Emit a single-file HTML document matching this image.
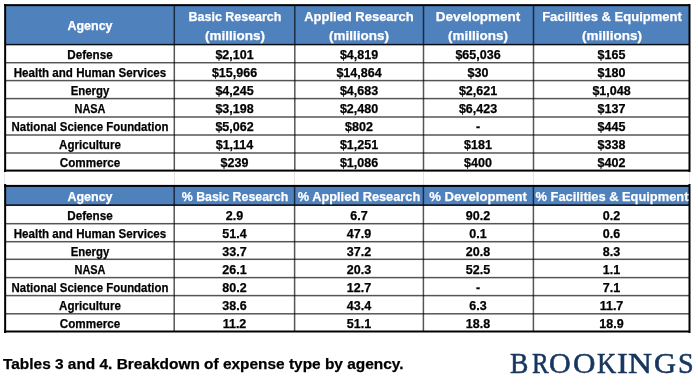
<!DOCTYPE html>
<html><head><meta charset="utf-8"><style>
html,body{margin:0;padding:0;background:#fff;}
body{width:698px;height:390px;position:relative;overflow:hidden;font-family:"Liberation Sans",sans-serif;}
.t{position:absolute;text-align:center;white-space:nowrap;font-weight:bold;-webkit-text-stroke:0.25px currentColor;}
.r{position:absolute;}
.m{position:absolute;mix-blend-mode:multiply;}
</style></head><body>
<div class="r" style="left:5px;top:5px;width:685px;height:40px;background:#4F81BD"></div>
<div class="m" style="left:6px;top:62px;width:683px;height:1px;background:#555555"></div>
<div class="m" style="left:6px;top:63px;width:683px;height:1px;background:#b2b2b2"></div>
<div class="m" style="left:6px;top:79px;width:683px;height:1px;background:#e5e5e5"></div>
<div class="m" style="left:6px;top:80px;width:683px;height:1px;background:#555555"></div>
<div class="m" style="left:6px;top:81px;width:683px;height:1px;background:#c4c4c4"></div>
<div class="m" style="left:6px;top:97px;width:683px;height:1px;background:#e5e5e5"></div>
<div class="m" style="left:6px;top:98px;width:683px;height:1px;background:#555555"></div>
<div class="m" style="left:6px;top:99px;width:683px;height:1px;background:#c4c4c4"></div>
<div class="m" style="left:6px;top:116px;width:683px;height:1px;background:#808080"></div>
<div class="m" style="left:6px;top:117px;width:683px;height:1px;background:#808080"></div>
<div class="m" style="left:6px;top:134px;width:683px;height:1px;background:#808080"></div>
<div class="m" style="left:6px;top:135px;width:683px;height:1px;background:#808080"></div>
<div class="m" style="left:6px;top:152px;width:683px;height:1px;background:#808080"></div>
<div class="m" style="left:6px;top:153px;width:683px;height:1px;background:#808080"></div>
<div class="m" style="left:173px;top:5px;width:1px;height:166px;background:#b3b3b3"></div>
<div class="m" style="left:174px;top:5px;width:1px;height:166px;background:#555555"></div>
<div class="m" style="left:175px;top:5px;width:1px;height:166px;background:#f6f6f6"></div>
<div class="m" style="left:294px;top:5px;width:1px;height:166px;background:#5e5e5e"></div>
<div class="m" style="left:295px;top:5px;width:1px;height:166px;background:#a1a1a1"></div>
<div class="m" style="left:422px;top:5px;width:1px;height:166px;background:#d4d4d4"></div>
<div class="m" style="left:423px;top:5px;width:1px;height:166px;background:#555555"></div>
<div class="m" style="left:424px;top:5px;width:1px;height:166px;background:#d4d4d4"></div>
<div class="m" style="left:532px;top:5px;width:1px;height:166px;background:#d4d4d4"></div>
<div class="m" style="left:533px;top:5px;width:1px;height:166px;background:#555555"></div>
<div class="m" style="left:534px;top:5px;width:1px;height:166px;background:#d4d4d4"></div>
<div class="m" style="left:6px;top:43px;width:683px;height:1px;background:#dddddd"></div>
<div class="m" style="left:6px;top:44px;width:683px;height:1px;background:#191919"></div>
<div class="m" style="left:6px;top:45px;width:683px;height:1px;background:#aeaeae"></div>
<div class="m" style="left:4px;top:4px;width:686px;height:1px;background:#262626"></div>
<div class="m" style="left:4px;top:5px;width:686px;height:1px;background:#000000"></div>
<div class="m" style="left:4px;top:6px;width:686px;height:1px;background:#d9d9d9"></div>
<div class="m" style="left:4px;top:169px;width:686px;height:1px;background:#999999"></div>
<div class="m" style="left:4px;top:170px;width:686px;height:1px;background:#000000"></div>
<div class="m" style="left:4px;top:171px;width:686px;height:1px;background:#666666"></div>
<div class="m" style="left:4px;top:4px;width:1px;height:168px;background:#262626"></div>
<div class="m" style="left:5px;top:4px;width:1px;height:168px;background:#000000"></div>
<div class="m" style="left:6px;top:4px;width:1px;height:168px;background:#d9d9d9"></div>
<div class="m" style="left:688px;top:4px;width:1px;height:168px;background:#808080"></div>
<div class="m" style="left:689px;top:4px;width:1px;height:168px;background:#000000"></div>
<div class="m" style="left:690px;top:4px;width:1px;height:168px;background:#808080"></div>
<div class="t" style="left:-110.00px;top:19.10px;width:400px;font-size:13px;line-height:13px;color:#fff;transform:scaleX(0.961);">Agency</div>
<div class="t" style="left:34.50px;top:9.50px;width:400px;font-size:13px;line-height:13px;color:#fff;transform:scaleX(0.958);">Basic Research</div>
<div class="t" style="left:34.50px;top:28.70px;width:400px;font-size:13px;line-height:13px;color:#fff;transform:scaleX(1.036);">(millions)</div>
<div class="t" style="left:159.00px;top:9.50px;width:400px;font-size:13px;line-height:13px;color:#fff;transform:scaleX(0.997);">Applied Research</div>
<div class="t" style="left:159.00px;top:28.70px;width:400px;font-size:13px;line-height:13px;color:#fff;transform:scaleX(1.036);">(millions)</div>
<div class="t" style="left:278.00px;top:9.50px;width:400px;font-size:13px;line-height:13px;color:#fff;transform:scaleX(1.0375);">Development</div>
<div class="t" style="left:278.00px;top:28.70px;width:400px;font-size:13px;line-height:13px;color:#fff;transform:scaleX(1.036);">(millions)</div>
<div class="t" style="left:411.50px;top:9.50px;width:400px;font-size:13px;line-height:13px;color:#fff;transform:scaleX(1.002);">Facilities &amp; Equipment</div>
<div class="t" style="left:411.50px;top:28.70px;width:400px;font-size:13px;line-height:13px;color:#fff;transform:scaleX(1.036);">(millions)</div>
<div class="t" style="left:-110.00px;top:49.42px;width:400px;font-size:12.5px;line-height:12.5px;color:#000;transform:scaleX(0.936);">Defense</div>
<div class="t" style="left:34.50px;top:49.42px;width:400px;font-size:12.5px;line-height:12.5px;color:#000;">$2,101</div>
<div class="t" style="left:159.00px;top:49.42px;width:400px;font-size:12.5px;line-height:12.5px;color:#000;">$4,819</div>
<div class="t" style="left:278.00px;top:49.42px;width:400px;font-size:12.5px;line-height:12.5px;color:#000;">$65,036</div>
<div class="t" style="left:411.50px;top:49.42px;width:400px;font-size:12.5px;line-height:12.5px;color:#000;">$165</div>
<div class="t" style="left:-110.00px;top:67.42px;width:400px;font-size:12.5px;line-height:12.5px;color:#000;transform:scaleX(0.926);">Health and Human Services</div>
<div class="t" style="left:34.50px;top:67.42px;width:400px;font-size:12.5px;line-height:12.5px;color:#000;">$15,966</div>
<div class="t" style="left:159.00px;top:67.42px;width:400px;font-size:12.5px;line-height:12.5px;color:#000;">$14,864</div>
<div class="t" style="left:278.00px;top:67.42px;width:400px;font-size:12.5px;line-height:12.5px;color:#000;">$30</div>
<div class="t" style="left:411.50px;top:67.42px;width:400px;font-size:12.5px;line-height:12.5px;color:#000;">$180</div>
<div class="t" style="left:-110.00px;top:85.42px;width:400px;font-size:12.5px;line-height:12.5px;color:#000;transform:scaleX(0.91);">Energy</div>
<div class="t" style="left:34.50px;top:85.42px;width:400px;font-size:12.5px;line-height:12.5px;color:#000;">$4,245</div>
<div class="t" style="left:159.00px;top:85.42px;width:400px;font-size:12.5px;line-height:12.5px;color:#000;">$4,683</div>
<div class="t" style="left:278.00px;top:85.42px;width:400px;font-size:12.5px;line-height:12.5px;color:#000;">$2,621</div>
<div class="t" style="left:411.50px;top:85.42px;width:400px;font-size:12.5px;line-height:12.5px;color:#000;">$1,048</div>
<div class="t" style="left:-110.00px;top:103.42px;width:400px;font-size:12.5px;line-height:12.5px;color:#000;transform:scaleX(0.874);">NASA</div>
<div class="t" style="left:34.50px;top:103.42px;width:400px;font-size:12.5px;line-height:12.5px;color:#000;">$3,198</div>
<div class="t" style="left:159.00px;top:103.42px;width:400px;font-size:12.5px;line-height:12.5px;color:#000;">$2,480</div>
<div class="t" style="left:278.00px;top:103.42px;width:400px;font-size:12.5px;line-height:12.5px;color:#000;">$6,423</div>
<div class="t" style="left:411.50px;top:103.42px;width:400px;font-size:12.5px;line-height:12.5px;color:#000;">$137</div>
<div class="t" style="left:-110.00px;top:121.42px;width:400px;font-size:12.5px;line-height:12.5px;color:#000;transform:scaleX(0.914);">National Science Foundation</div>
<div class="t" style="left:34.50px;top:121.42px;width:400px;font-size:12.5px;line-height:12.5px;color:#000;">$5,062</div>
<div class="t" style="left:159.00px;top:121.42px;width:400px;font-size:12.5px;line-height:12.5px;color:#000;">$802</div>
<div class="t" style="left:278.00px;top:121.42px;width:400px;font-size:12.5px;line-height:12.5px;color:#000;">-</div>
<div class="t" style="left:411.50px;top:121.42px;width:400px;font-size:12.5px;line-height:12.5px;color:#000;">$445</div>
<div class="t" style="left:-110.00px;top:139.42px;width:400px;font-size:12.5px;line-height:12.5px;color:#000;transform:scaleX(0.926);">Agriculture</div>
<div class="t" style="left:34.50px;top:139.42px;width:400px;font-size:12.5px;line-height:12.5px;color:#000;">$1,114</div>
<div class="t" style="left:159.00px;top:139.42px;width:400px;font-size:12.5px;line-height:12.5px;color:#000;">$1,251</div>
<div class="t" style="left:278.00px;top:139.42px;width:400px;font-size:12.5px;line-height:12.5px;color:#000;">$181</div>
<div class="t" style="left:411.50px;top:139.42px;width:400px;font-size:12.5px;line-height:12.5px;color:#000;">$338</div>
<div class="t" style="left:-110.00px;top:157.42px;width:400px;font-size:12.5px;line-height:12.5px;color:#000;transform:scaleX(0.937);">Commerce</div>
<div class="t" style="left:34.50px;top:157.42px;width:400px;font-size:12.5px;line-height:12.5px;color:#000;">$239</div>
<div class="t" style="left:159.00px;top:157.42px;width:400px;font-size:12.5px;line-height:12.5px;color:#000;">$1,086</div>
<div class="t" style="left:278.00px;top:157.42px;width:400px;font-size:12.5px;line-height:12.5px;color:#000;">$400</div>
<div class="t" style="left:411.50px;top:157.42px;width:400px;font-size:12.5px;line-height:12.5px;color:#000;">$402</div>
<div class="r" style="left:4px;top:172px;width:1px;height:13px;background:#e4e4e4"></div>
<div class="r" style="left:174px;top:172px;width:1px;height:13px;background:#e4e4e4"></div>
<div class="r" style="left:294px;top:172px;width:1px;height:13px;background:#e4e4e4"></div>
<div class="r" style="left:423px;top:172px;width:1px;height:13px;background:#e4e4e4"></div>
<div class="r" style="left:533px;top:172px;width:1px;height:13px;background:#e4e4e4"></div>
<div class="r" style="left:689px;top:172px;width:1px;height:13px;background:#e4e4e4"></div>
<div class="r" style="left:5px;top:185px;width:685px;height:21px;background:#4F81BD"></div>
<div class="m" style="left:6px;top:222px;width:683px;height:1px;background:#f6f6f6"></div>
<div class="m" style="left:6px;top:223px;width:683px;height:1px;background:#555555"></div>
<div class="m" style="left:6px;top:224px;width:683px;height:1px;background:#b3b3b3"></div>
<div class="m" style="left:6px;top:240px;width:683px;height:1px;background:#f6f6f6"></div>
<div class="m" style="left:6px;top:241px;width:683px;height:1px;background:#555555"></div>
<div class="m" style="left:6px;top:242px;width:683px;height:1px;background:#b3b3b3"></div>
<div class="m" style="left:6px;top:258px;width:683px;height:1px;background:#b3b3b3"></div>
<div class="m" style="left:6px;top:259px;width:683px;height:1px;background:#555555"></div>
<div class="m" style="left:6px;top:260px;width:683px;height:1px;background:#f6f6f6"></div>
<div class="m" style="left:6px;top:276px;width:683px;height:1px;background:#e6e6e6"></div>
<div class="m" style="left:6px;top:277px;width:683px;height:1px;background:#555555"></div>
<div class="m" style="left:6px;top:278px;width:683px;height:1px;background:#c3c3c3"></div>
<div class="m" style="left:6px;top:294px;width:683px;height:1px;background:#e6e6e6"></div>
<div class="m" style="left:6px;top:295px;width:683px;height:1px;background:#555555"></div>
<div class="m" style="left:6px;top:296px;width:683px;height:1px;background:#c3c3c3"></div>
<div class="m" style="left:6px;top:313px;width:683px;height:1px;background:#5e5e5e"></div>
<div class="m" style="left:6px;top:314px;width:683px;height:1px;background:#a1a1a1"></div>
<div class="m" style="left:173px;top:185px;width:1px;height:147px;background:#a1a1a1"></div>
<div class="m" style="left:174px;top:185px;width:1px;height:147px;background:#5e5e5e"></div>
<div class="m" style="left:293px;top:185px;width:1px;height:147px;background:#e6e6e6"></div>
<div class="m" style="left:294px;top:185px;width:1px;height:147px;background:#555555"></div>
<div class="m" style="left:295px;top:185px;width:1px;height:147px;background:#c3c3c3"></div>
<div class="m" style="left:422px;top:185px;width:1px;height:147px;background:#c3c3c3"></div>
<div class="m" style="left:423px;top:185px;width:1px;height:147px;background:#555555"></div>
<div class="m" style="left:424px;top:185px;width:1px;height:147px;background:#e6e6e6"></div>
<div class="m" style="left:532px;top:185px;width:1px;height:147px;background:#c3c3c3"></div>
<div class="m" style="left:533px;top:185px;width:1px;height:147px;background:#555555"></div>
<div class="m" style="left:534px;top:185px;width:1px;height:147px;background:#e6e6e6"></div>
<div class="m" style="left:6px;top:204px;width:683px;height:1px;background:#696969"></div>
<div class="m" style="left:6px;top:205px;width:683px;height:1px;background:#3c3c3c"></div>
<div class="m" style="left:4px;top:184px;width:686px;height:1px;background:#e6e6e6"></div>
<div class="m" style="left:4px;top:185px;width:686px;height:1px;background:#000000"></div>
<div class="m" style="left:4px;top:186px;width:686px;height:1px;background:#191919"></div>
<div class="m" style="left:4px;top:330px;width:686px;height:1px;background:#808080"></div>
<div class="m" style="left:4px;top:331px;width:686px;height:1px;background:#000000"></div>
<div class="m" style="left:4px;top:332px;width:686px;height:1px;background:#808080"></div>
<div class="m" style="left:4px;top:184px;width:1px;height:149px;background:#262626"></div>
<div class="m" style="left:5px;top:184px;width:1px;height:149px;background:#000000"></div>
<div class="m" style="left:6px;top:184px;width:1px;height:149px;background:#d9d9d9"></div>
<div class="m" style="left:688px;top:184px;width:1px;height:149px;background:#808080"></div>
<div class="m" style="left:689px;top:184px;width:1px;height:149px;background:#000000"></div>
<div class="m" style="left:690px;top:184px;width:1px;height:149px;background:#808080"></div>
<div class="t" style="left:-110.00px;top:189.60px;width:400px;font-size:13px;line-height:13px;color:#fff;transform:scaleX(0.961);">Agency</div>
<div class="t" style="left:34.50px;top:189.60px;width:400px;font-size:13px;line-height:13px;color:#fff;transform:scaleX(0.951);">% Basic Research</div>
<div class="t" style="left:159.00px;top:189.60px;width:400px;font-size:13px;line-height:13px;color:#fff;transform:scaleX(0.984);">% Applied Research</div>
<div class="t" style="left:278.00px;top:189.60px;width:400px;font-size:13px;line-height:13px;color:#fff;transform:scaleX(1.009);">% Development</div>
<div class="t" style="left:411.50px;top:189.60px;width:400px;font-size:13px;line-height:13px;color:#fff;transform:scaleX(0.989);">% Facilities &amp; Equipment</div>
<div class="t" style="left:-110.00px;top:210.42px;width:400px;font-size:12.5px;line-height:12.5px;color:#000;transform:scaleX(0.936);">Defense</div>
<div class="t" style="left:34.50px;top:210.42px;width:400px;font-size:12.5px;line-height:12.5px;color:#000;">2.9</div>
<div class="t" style="left:159.00px;top:210.42px;width:400px;font-size:12.5px;line-height:12.5px;color:#000;">6.7</div>
<div class="t" style="left:278.00px;top:210.42px;width:400px;font-size:12.5px;line-height:12.5px;color:#000;">90.2</div>
<div class="t" style="left:411.50px;top:210.42px;width:400px;font-size:12.5px;line-height:12.5px;color:#000;">0.2</div>
<div class="t" style="left:-110.00px;top:228.42px;width:400px;font-size:12.5px;line-height:12.5px;color:#000;transform:scaleX(0.926);">Health and Human Services</div>
<div class="t" style="left:34.50px;top:228.42px;width:400px;font-size:12.5px;line-height:12.5px;color:#000;">51.4</div>
<div class="t" style="left:159.00px;top:228.42px;width:400px;font-size:12.5px;line-height:12.5px;color:#000;">47.9</div>
<div class="t" style="left:278.00px;top:228.42px;width:400px;font-size:12.5px;line-height:12.5px;color:#000;">0.1</div>
<div class="t" style="left:411.50px;top:228.42px;width:400px;font-size:12.5px;line-height:12.5px;color:#000;">0.6</div>
<div class="t" style="left:-110.00px;top:246.42px;width:400px;font-size:12.5px;line-height:12.5px;color:#000;transform:scaleX(0.91);">Energy</div>
<div class="t" style="left:34.50px;top:246.42px;width:400px;font-size:12.5px;line-height:12.5px;color:#000;">33.7</div>
<div class="t" style="left:159.00px;top:246.42px;width:400px;font-size:12.5px;line-height:12.5px;color:#000;">37.2</div>
<div class="t" style="left:278.00px;top:246.42px;width:400px;font-size:12.5px;line-height:12.5px;color:#000;">20.8</div>
<div class="t" style="left:411.50px;top:246.42px;width:400px;font-size:12.5px;line-height:12.5px;color:#000;">8.3</div>
<div class="t" style="left:-110.00px;top:264.42px;width:400px;font-size:12.5px;line-height:12.5px;color:#000;transform:scaleX(0.874);">NASA</div>
<div class="t" style="left:34.50px;top:264.42px;width:400px;font-size:12.5px;line-height:12.5px;color:#000;">26.1</div>
<div class="t" style="left:159.00px;top:264.42px;width:400px;font-size:12.5px;line-height:12.5px;color:#000;">20.3</div>
<div class="t" style="left:278.00px;top:264.42px;width:400px;font-size:12.5px;line-height:12.5px;color:#000;">52.5</div>
<div class="t" style="left:411.50px;top:264.42px;width:400px;font-size:12.5px;line-height:12.5px;color:#000;">1.1</div>
<div class="t" style="left:-110.00px;top:282.42px;width:400px;font-size:12.5px;line-height:12.5px;color:#000;transform:scaleX(0.914);">National Science Foundation</div>
<div class="t" style="left:34.50px;top:282.42px;width:400px;font-size:12.5px;line-height:12.5px;color:#000;">80.2</div>
<div class="t" style="left:159.00px;top:282.42px;width:400px;font-size:12.5px;line-height:12.5px;color:#000;">12.7</div>
<div class="t" style="left:278.00px;top:282.42px;width:400px;font-size:12.5px;line-height:12.5px;color:#000;">-</div>
<div class="t" style="left:411.50px;top:282.42px;width:400px;font-size:12.5px;line-height:12.5px;color:#000;">7.1</div>
<div class="t" style="left:-110.00px;top:300.42px;width:400px;font-size:12.5px;line-height:12.5px;color:#000;transform:scaleX(0.926);">Agriculture</div>
<div class="t" style="left:34.50px;top:300.42px;width:400px;font-size:12.5px;line-height:12.5px;color:#000;">38.6</div>
<div class="t" style="left:159.00px;top:300.42px;width:400px;font-size:12.5px;line-height:12.5px;color:#000;">43.4</div>
<div class="t" style="left:278.00px;top:300.42px;width:400px;font-size:12.5px;line-height:12.5px;color:#000;">6.3</div>
<div class="t" style="left:411.50px;top:300.42px;width:400px;font-size:12.5px;line-height:12.5px;color:#000;">11.7</div>
<div class="t" style="left:-110.00px;top:318.42px;width:400px;font-size:12.5px;line-height:12.5px;color:#000;transform:scaleX(0.937);">Commerce</div>
<div class="t" style="left:34.50px;top:318.42px;width:400px;font-size:12.5px;line-height:12.5px;color:#000;">11.2</div>
<div class="t" style="left:159.00px;top:318.42px;width:400px;font-size:12.5px;line-height:12.5px;color:#000;">51.1</div>
<div class="t" style="left:278.00px;top:318.42px;width:400px;font-size:12.5px;line-height:12.5px;color:#000;">18.8</div>
<div class="t" style="left:411.50px;top:318.42px;width:400px;font-size:12.5px;line-height:12.5px;color:#000;">18.9</div>
<div class="t" style="left:3px;top:356.10px;font-size:15px;line-height:15px;color:#000;text-align:left;transform-origin:0 0;transform:scaleX(1.028)">Tables 3 and 4. Breakdown of expense type by agency.</div>
<div class="t" style="left:510.48px;top:348.07px;font-family:'Liberation Serif',serif;font-weight:normal;font-size:30px;line-height:30px;color:#17365F;text-align:left;transform-origin:0 0;transform:scaleX(0.917);-webkit-text-stroke:0.55px #17365F">B</div>
<div class="t" style="left:532.07px;top:348.07px;font-family:'Liberation Serif',serif;font-weight:normal;font-size:30px;line-height:30px;color:#17365F;text-align:left;transform-origin:0 0;transform:scaleX(0.832);-webkit-text-stroke:0.55px #17365F">R</div>
<div class="t" style="left:549.10px;top:348.07px;font-family:'Liberation Serif',serif;font-weight:normal;font-size:30px;line-height:30px;color:#17365F;text-align:left;transform-origin:0 0;transform:scaleX(1.005);-webkit-text-stroke:0.55px #17365F">O</div>
<div class="t" style="left:572.76px;top:348.07px;font-family:'Liberation Serif',serif;font-weight:normal;font-size:30px;line-height:30px;color:#17365F;text-align:left;transform-origin:0 0;transform:scaleX(1.035);-webkit-text-stroke:0.55px #17365F">O</div>
<div class="t" style="left:596.51px;top:348.07px;font-family:'Liberation Serif',serif;font-weight:normal;font-size:30px;line-height:30px;color:#17365F;text-align:left;transform-origin:0 0;transform:scaleX(0.890);-webkit-text-stroke:0.55px #17365F">K</div>
<div class="t" style="left:616.91px;top:348.07px;font-family:'Liberation Serif',serif;font-weight:normal;font-size:30px;line-height:30px;color:#17365F;text-align:left;transform-origin:0 0;transform:scaleX(1.087);-webkit-text-stroke:0.55px #17365F">I</div>
<div class="t" style="left:628.39px;top:348.07px;font-family:'Liberation Serif',serif;font-weight:normal;font-size:30px;line-height:30px;color:#17365F;text-align:left;transform-origin:0 0;transform:scaleX(1.110);-webkit-text-stroke:0.55px #17365F">N</div>
<div class="t" style="left:653.58px;top:348.07px;font-family:'Liberation Serif',serif;font-weight:normal;font-size:30px;line-height:30px;color:#17365F;text-align:left;transform-origin:0 0;transform:scaleX(1.016);-webkit-text-stroke:0.55px #17365F">G</div>
<div class="t" style="left:677.96px;top:348.07px;font-family:'Liberation Serif',serif;font-weight:normal;font-size:30px;line-height:30px;color:#17365F;text-align:left;transform-origin:0 0;transform:scaleX(0.938);-webkit-text-stroke:0.55px #17365F">S</div>
</body></html>
